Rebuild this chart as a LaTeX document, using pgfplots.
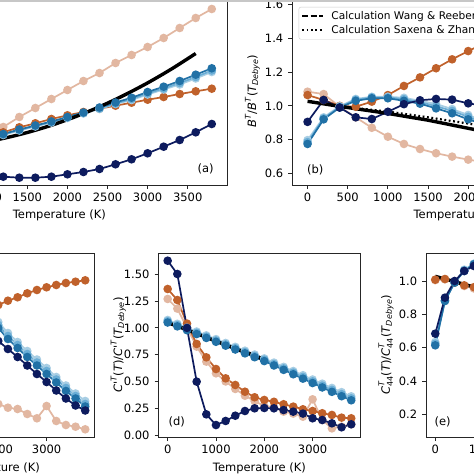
\documentclass[border=0pt]{standalone}
\usepackage{pgfplots}
\pgfplotsset{compat=1.18}
\usepackage{pgfplotstable}
\usepackage{amsmath}
\usepackage{fontspec}
\setmainfont{DejaVu Sans}

\definecolor{cnavy}{HTML}{0D1B5E}
\definecolor{cblue}{HTML}{2171A6}
\definecolor{csky}{HTML}{6BAED6}
\definecolor{clight}{HTML}{A8CEE4}
\definecolor{corange}{HTML}{C0612B}
\definecolor{cpink}{HTML}{E2B7A1}

\pgfplotstableread{
T navy blue sky light orange pink
0 14 24 23.5 23 18 12
200 13 28 27.5 27 23 18
400 12 32 31.5 31 29 25
600 11 36 35.5 35 35 33
800 10 40 39.5 39 41 41
1000 9 45.5 45 44.5 47 49
1200 8.3 51 50.5 50 52.7 58
1400 7.3 55.5 55 54.5 57.7 68
1600 7.3 59.5 59 58.5 61.7 77
1800 8.3 63.5 63 62.5 66 86
2000 10.7 68 67.5 67 69.7 95
2200 13 72.5 72 71.5 73 104
2400 16 77.5 76.5 76 76.3 112
2600 20.7 82.5 81.5 81 79.3 122
2800 25.7 87.3 86 85 82.3 130
3000 31.7 93 91.5 90.5 85.3 138
3200 38.3 98.3 96.5 95.5 88 147
3400 45 104 102 100.5 91 157
3600 52.7 110.3 108 106.5 93.7 167
3800 61 116.7 114.5 113 96.3 176
}\tabA
\pgfplotstableread{
T v
300 37.2
600 39
900 42.1
1200 46.6
1500 52.5
1800 59.7
2100 68.3
2400 78.2
2700 89.5
3000 102.1
3300 116.1
3600 131.5
}\blkA

\pgfplotstableread{
T navy blue sky light orange pink
0 0.905 0.774 0.785 0.797 1.064 1.084
200 1.035 0.92 0.926 0.932 1.035 1.070
400 0.99 0.99 0.994 0.998 1.0 0.995
600 0.932 1.03 1.036 1.041 0.995 0.932
800 0.922 1.045 1.05 1.054 1.025 0.870
1000 0.965 1.045 1.05 1.054 1.064 0.817
1200 1.01 1.03 1.04 1.048 1.118 0.774
1400 1.033 1.013 1.022 1.03 1.169 0.744
1600 1.041 0.985 0.998 1.011 1.223 0.719
1800 1.037 0.956 0.97 0.981 1.276 0.699
2000 1.015 0.92 0.935 0.946 1.325 0.681
2200 1.0 0.89 0.90 0.91 1.37 0.665
2400 0.98 0.86 0.87 0.88 1.41 0.652
2600 0.96 0.83 0.84 0.85 1.45 0.64
2800 0.94 0.80 0.81 0.82 1.48 0.63
3000 0.92 0.77 0.78 0.79 1.51 0.62
3200 0.90 0.74 0.75 0.76 1.54 0.612
3400 0.88 0.71 0.72 0.73 1.56 0.605
3600 0.86 0.68 0.69 0.70 1.58 0.598
3800 0.84 0.65 0.66 0.67 1.60 0.59
}\tabB
\pgfplotstableread{
T wang saxena
0 1.027 nan
400 0.997 0.998
500 0.99 0.992
1000 0.955 0.966
1500 0.915 0.932
2000 0.867 0.895
2500 0.82 0.855
3000 0.77 0.81
3500 0.72 0.765
}\blkB

\pgfplotstableread{
T navy blue sky light orange pink
0 170 173 174.5 176 66 150
200 169 172 173.5 175 74 130
400 166 170 171.5 173 82 110
600 162 166 167.5 169 90 95
800 156 161 162.5 164 97.5 82
1000 149 155 156.5 158 104.5 72
1200 141 148 149.5 151 111 63
1400 132 140 141.5 143 117 55
1600 122 131 132.5 134 122.5 47
1800 110 121 122.5 125 127.5 40
2000 96 109 112 115 132 33
2200 88 98 101 104 136.3 29.3
2400 80 89 92 95 139.7 28
2600 71.5 80 83 86 143.7 23
2800 63 71.5 74.5 77.5 147 18.7
3000 55 63 66 69 149.7 31
3200 46.5 54.5 57.5 60 152 16
3400 38.5 46 49 51.5 154 12
3600 31.5 38.5 41 43.5 155.3 10.3
3800 26.5 30.5 33 36 156.7 7.7
}\tabC

\pgfplotstableread{
T navy blue sky light orange pink
0 1.627 1.05 1.062 1.074 1.363 1.27
200 1.503 1.014 1.026 1.038 1.26 1.18
400 1.0 0.978 0.99 1.002 1.04 1.0
600 0.498 0.942 0.954 0.966 0.85 0.825
800 0.193 0.906 0.918 0.93 0.725 0.685
1000 0.093 0.87 0.882 0.895 0.616 0.576
1200 0.131 0.834 0.846 0.859 0.529 0.50
1400 0.18 0.798 0.81 0.823 0.467 0.43
1600 0.224 0.762 0.774 0.787 0.404 0.367
1800 0.249 0.726 0.738 0.751 0.352 0.317
2000 0.252 0.69 0.703 0.715 0.327 0.27
2200 0.249 0.649 0.662 0.676 0.31 0.26
2400 0.233 0.608 0.622 0.636 0.287 0.218
2600 0.218 0.567 0.582 0.597 0.265 0.2
2800 0.20 0.526 0.542 0.558 0.24 0.171
3000 0.156 0.485 0.501 0.518 0.224 0.333
3200 0.14 0.444 0.461 0.479 0.203 0.14
3400 0.109 0.403 0.421 0.439 0.187 0.062
3600 0.072 0.362 0.381 0.40 0.162 0.078
3800 0.10 0.324 0.342 0.361 0.156 0.10
}\tabD
\pgfplotstableread{
T v
0 1.049
500 0.965
1000 0.876
1500 0.79
1800 0.745
2000 0.70
}\blkD

\pgfplotstableread{
T navy blue sky light orange pink
0 0.684 0.614 0.624 0.634 1.008 1.005
200 0.90 0.88 0.882 0.884 1.012 1.01
400 1.0 0.99 0.992 0.994 0.99 0.99
600 1.06 1.06 1.064 1.068 0.974 0.97
800 1.09 1.10 1.102 1.104 0.963 0.955
1000 1.11 1.12 1.12 1.12 0.955 0.945
1200 1.12 1.13 1.13 1.13 0.947 0.935
}\tabE
\pgfplotstableread{
T v
0 1.028
400 0.996
800 0.964
1200 0.93
}\blkE

\pgfplotsset{
  panel/.style={
    scale only axis, clip=true,
    axis line style={black!85, line width=0.9pt},
    tick align=outside, major tick length=4pt,
    every tick/.style={black!85, line width=0.9pt},
    xtick pos=left, ytick pos=left,
    tick label style={font=\fontsize{11.5}{13}\selectfont},
    yticklabel style={xshift=-1.5pt},
    label style={font=\fontsize{11.5}{13}\selectfont},
    /pgf/number format/assume math mode=true,
    /pgf/number format/1000 sep={},
    scaled ticks=false,
    xmin=-190, xmax=3990,
    xlabel={Temperature (K)},
  },
  ser/.style={color=#1, line width=1.7pt, mark=*, mark size=3.4pt,
    mark options={solid, draw=none, fill=#1}, forget plot},
  blk/.style={black, line width=3.4pt, forget plot},
}

\begin{document}
\begin{tikzpicture}[x=1pt,y=1pt]
\begin{scope}
\clip (0,0) rectangle (474,474);
\fill[white] (0,0) rectangle (474,474);

% (a)
\begin{axis}[panel, at={(-108.2pt,289pt)}, anchor=south west,
  width=335.2pt, height=185pt, ymin=0, ymax=185,
  xtick={0,500,...,3500}, ytick=\empty,
  xlabel style={at={(axis description cs:0.5,-0.162)}, anchor=center}]
\addplot[ser=cpink] table[x=T,y=pink]{\tabA};
\addplot[ser=corange] table[x=T,y=orange]{\tabA};
\addplot[ser=clight] table[x=T,y=light]{\tabA};
\addplot[ser=csky] table[x=T,y=sky]{\tabA};
\addplot[ser=cblue] table[x=T,y=blue]{\tabA};
\addplot[ser=cnavy] table[x=T,y=navy]{\tabA};
\addplot[blk, smooth] table[x=T,y=v]{\blkA};
\node[font=\fontsize{11.5}{13}\selectfont] at (rel axis cs:0.9365,0.0865) {(a)};
\end{axis}

% (b)
\begin{axis}[panel, at={(292.3pt,289pt)}, anchor=south west,
  width=335.7pt, height=188pt, ymin=0.5306, ymax=1.6457,
  xtick={0,500,...,3500}, ytick={0.6,0.8,...,1.61},
  yticklabel style={/pgf/number format/.cd, fixed, fixed zerofill, precision=1},
  xlabel style={at={(axis description cs:0.5,-0.1596)}, anchor=center},
  ylabel style={at={(axis description cs:-0.119,0.5)}, anchor=center},
  ylabel={$\textit{B}^{\textit{T}}\text{/}\textit{B}^{\textit{T}}\text{(}\textit{T}_{\textit{Debye}}\text{)}$},
  legend style={at={(axis description cs:0.019,0.947)}, anchor=north west,
    font=\fontsize{10.6}{12}\selectfont, draw=black!20, rounded corners=2pt,
    fill=white, fill opacity=0.85, text opacity=1, inner sep=2pt,
    row sep=1pt},
  legend cell align=left,
  legend image code/.code={\draw[#1] (0pt,0pt) -- (21pt,0pt); \path (26pt,0pt);}]
\addlegendimage{black, line width=2.6pt, dash pattern=on 6pt off 2.5pt}
\addlegendentry{Calculation Wang \& Reeber}
\addlegendimage{black, line width=2pt, dash pattern=on 1.8pt off 2.6pt}
\addlegendentry{Calculation Saxena \& Zhang}
\addplot[ser=cpink] table[x=T,y=pink]{\tabB};
\addplot[ser=corange] table[x=T,y=orange]{\tabB};
\addplot[ser=clight] table[x=T,y=light]{\tabB};
\addplot[ser=csky] table[x=T,y=sky]{\tabB};
\addplot[ser=cblue] table[x=T,y=blue]{\tabB};
\addplot[ser=cnavy] table[x=T,y=navy]{\tabB};
\addplot[blk] table[x=T,y=wang]{\blkB};
\addplot[black, line width=2.2pt, dash pattern=on 1.8pt off 2.6pt, forget plot, unbounded coords=jump] table[x=T,y=saxena]{\blkB};
\node[font=\fontsize{11.5}{13}\selectfont] at (rel axis cs:0.0685,0.08) {(b)};
\end{axis}

% (c)
\begin{axis}[panel, at={(-107.5pt,37pt)}, anchor=south west,
  width=201.9pt, height=184pt, ymin=0, ymax=184,
  xtick={0,1000,2000,3000}, ytick=\empty,
  xlabel style={at={(axis description cs:0.5,-0.1685)}, anchor=center}]
\addplot[ser=cpink] table[x=T,y=pink]{\tabC};
\addplot[ser=corange] table[x=T,y=orange]{\tabC};
\addplot[ser=clight] table[x=T,y=light]{\tabC};
\addplot[ser=csky] table[x=T,y=sky]{\tabC};
\addplot[ser=cblue] table[x=T,y=blue]{\tabC};
\addplot[ser=cnavy] table[x=T,y=navy]{\tabC};
\node[font=\fontsize{11.5}{13}\selectfont] at (rel axis cs:0.09,0.0815) {(c)};
\end{axis}

% (d)
\begin{axis}[panel, at={(158.5pt,37pt)}, anchor=south west,
  width=201.9pt, height=184pt, ymin=-0.0187, ymax=1.699,
  xtick={0,1000,2000,3000}, ytick={0,0.25,...,1.51},
  yticklabel style={/pgf/number format/.cd, fixed, fixed zerofill, precision=2},
  xlabel style={at={(axis description cs:0.5,-0.1685)}, anchor=center},
  ylabel style={at={(axis description cs:-0.199,0.5)}, anchor=center},
  ylabel={$\textit{C\textquotesingle}^{\textit{T}}\text{(}\textit{T}\text{)/}\textit{C\textquotesingle}^{\textit{T}}\text{(}\textit{T}_{\textit{Debye}}\text{)}$}]
\addplot[ser=cpink] table[x=T,y=pink]{\tabD};
\addplot[ser=corange] table[x=T,y=orange]{\tabD};
\addplot[ser=clight] table[x=T,y=light]{\tabD};
\addplot[ser=csky] table[x=T,y=sky]{\tabD};
\addplot[ser=cblue] table[x=T,y=blue]{\tabD};
\addplot[ser=cnavy] table[x=T,y=navy]{\tabD};
\addplot[blk] table[x=T,y=v]{\blkD};
\node[font=\fontsize{11.5}{13}\selectfont] at (rel axis cs:0.09,0.0815) {(d)};
\end{axis}

% (e)
\begin{axis}[panel, at={(426.1pt,37pt)}, anchor=south west,
  width=201.9pt, height=184pt, ymin=0.064, ymax=1.168,
  xtick={0,1000,2000,3000}, ytick={0.2,0.4,...,1.01},
  yticklabel style={/pgf/number format/.cd, fixed, fixed zerofill, precision=1},
  xlabel style={at={(axis description cs:0.5,-0.1685)}, anchor=center},
  ylabel style={at={(axis description cs:-0.1986,0.5)}, anchor=center},
  ylabel={$\textit{C}^{\textit{T}}_{\text{44}}\text{(}\textit{T}\text{)/}\textit{C}^{\textit{T}}_{\text{44}}\text{(}\textit{T}_{\textit{Debye}}\text{)}$}]
\addplot[ser=cpink] table[x=T,y=pink]{\tabE};
\addplot[ser=corange] table[x=T,y=orange]{\tabE};
\addplot[ser=clight] table[x=T,y=light]{\tabE};
\addplot[ser=csky] table[x=T,y=sky]{\tabE};
\addplot[ser=cblue] table[x=T,y=blue]{\tabE};
\addplot[ser=cnavy] table[x=T,y=navy]{\tabE};
\addplot[blk] table[x=T,y=v]{\blkE};
\node[font=\fontsize{11.5}{13}\selectfont] at (rel axis cs:0.082,0.0815) {(e)};
\end{axis}

\fill[black!22] (0,472) rectangle (474,474);
\end{scope}
\pgfresetboundingbox
\useasboundingbox (0,0) rectangle (474,474);
\end{tikzpicture}
\end{document}
